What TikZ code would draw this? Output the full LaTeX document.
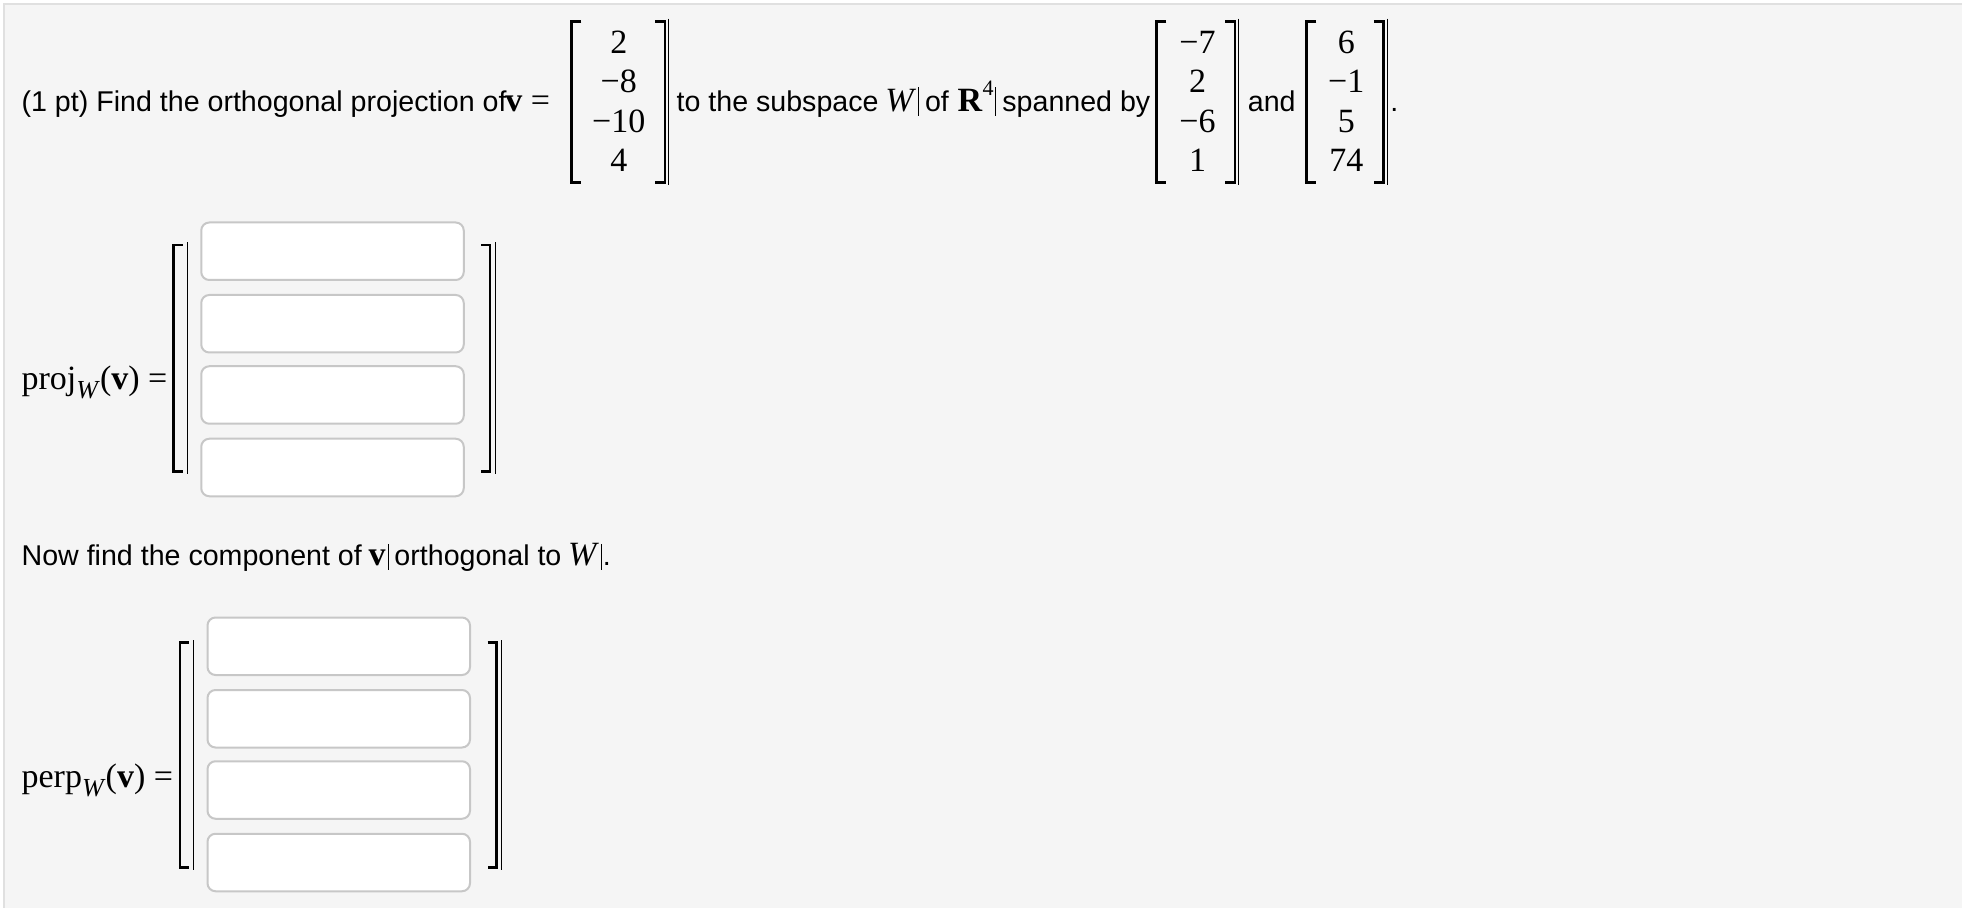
\documentclass[tikz,border=0pt]{standalone}
\usepackage{fontspec}
\setmainfont{Liberation Serif}
\newfontfamily\sans{Liberation Sans}
\begin{document}
\begin{tikzpicture}[x=0.625pt,y=-0.625pt,
  txt/.style={font=\sans\fontsize{14.3}{17}\selectfont, inner sep=0, anchor=base west},
  mth/.style={font=\fontsize{17}{19}\selectfont, inner sep=0, anchor=base west},
  num/.style={font=\fontsize{17}{19}\selectfont, inner sep=0, anchor=base},
  brk/.style={line width=1.3pt},
  bar/.style={line width=0.5pt},
  inbox/.style={draw=black!22, line width=1pt, fill=white, rounded corners=4pt}]
\useasboundingbox (0,0) rectangle (1569.6,726.4);
\fill[white] (0,0) rectangle (1569.6,726.4);
\draw[fill=black!4, draw=black!12, line width=0.8pt] (3,3) rectangle (1580,740);
% line 1
\node[txt] (t1) at (17,89) {(1 pt) Find the orthogonal projection of};
\node[mth] (v1) at (404,89) {\textbf{v} =};
% matrix 1
\foreach \y/\n in {43/2,74/−8,106/−10,137/4}{\node[num] at (495,\y) {\n};}
\draw[brk] (465,17) -- (457,17) -- (457,146) -- (465,146);
\draw[brk] (524,17) -- (532,17) -- (532,146) -- (524,146);
\draw[bar] (535,15) -- (535,148);
\node[txt] (t2) at (541,89) {to the subspace};
\node[mth, xshift=3pt] (w1) at (t2.base east) {\textit{W}};
\draw[bar] ([xshift=1pt]w1.east |- 0,70) -- ([xshift=1pt]w1.east |- 0,93);
\node[txt, xshift=4pt] (t3) at (w1.base east) {of};
\node[mth, xshift=4pt] (r1) at (t3.base east) {\textbf{R}\raisebox{0.45em}{\fontsize{11}{12}\selectfont 4}};
\draw[bar] ([xshift=1pt]r1.east |- 0,70) -- ([xshift=1pt]r1.east |- 0,93);
\node[txt, xshift=4pt] (t4) at (r1.base east) {spanned by};
% matrix 2
\foreach \y/\n in {43/−7,74/2,106/−6,137/1}{\node[num] at (958,\y) {\n};}
\draw[brk] (933,17) -- (925,17) -- (925,146) -- (933,146);
\draw[brk] (980,17) -- (988,17) -- (988,146) -- (980,146);
\draw[bar] (991,15) -- (991,148);
\node[txt] (t5) at (998,89) {and};
% matrix 3
\foreach \y/\n in {43/6,74/−1,106/5,137/74}{\node[num] at (1077,\y) {\n};}
\draw[brk] (1053,17) -- (1045,17) -- (1045,146) -- (1053,146);
\draw[brk] (1099,17) -- (1107,17) -- (1107,146) -- (1099,146);
\draw[bar] (1110,15) -- (1110,148);
\node[txt] (t6) at (1112,89) {.};
% proj
\node[mth] (p1) at (17,312) {proj\raisebox{-0.25em}{\fontsize{13}{14}\selectfont\textit{W}}(\textbf{v}) =};
\draw[brk] (146,196) -- (139,196) -- (139,377) -- (146,377);
\draw[bar] (150,194) -- (150,379);
\foreach \y in {178,236,293,351}{\draw[inbox] (161,\y) rectangle (371,\y+46);}
\draw[brk] (385,196) -- (392,196) -- (392,377) -- (385,377);
\draw[bar] (396,194) -- (396,379);
% now find
\node[txt] (t7) at (17,452) {Now find the component of};
\node[mth, xshift=3pt] (v2) at (t7.base east) {\textbf{v}};
\draw[bar] ([xshift=1pt]v2.east |- 0,435) -- ([xshift=1pt]v2.east |- 0,456);
\node[txt, xshift=4pt] (t8) at (v2.base east) {orthogonal to};
\node[mth, xshift=3pt] (w2) at (t8.base east) {\textit{W}};
\draw[bar] ([xshift=1pt]w2.east |- 0,435) -- ([xshift=1pt]w2.east |- 0,456);
\node[txt, xshift=1.5pt] (t9) at (w2.base east) {.};
% perp
\node[mth] (p2) at (17,630) {perp\raisebox{-0.25em}{\fontsize{13}{14}\selectfont\textit{W}}(\textbf{v}) =};
\draw[brk] (151,514) -- (144,514) -- (144,694) -- (151,694);
\draw[bar] (155,512) -- (155,696);
\foreach \y in {494,552,609,667}{\draw[inbox] (166,\y) rectangle (376,\y+46);}
\draw[brk] (390,514) -- (397,514) -- (397,694) -- (390,694);
\draw[bar] (401,512) -- (401,696);
\end{tikzpicture}
\end{document}
